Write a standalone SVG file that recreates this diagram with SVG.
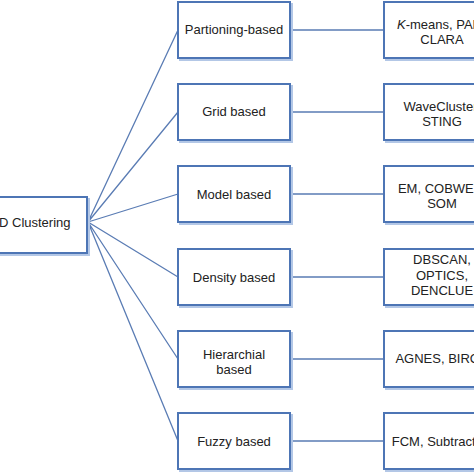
<svg xmlns="http://www.w3.org/2000/svg" width="474" height="474" viewBox="0 0 474 474">
<defs>
<style>
.box{fill:#fff;stroke:#4d75b5;stroke-width:2}
.sh{fill:none;stroke:#b3c7e6;stroke-width:2}
.ln{stroke:#5a7cb4;stroke-width:1.3;fill:none}
text{font-family:"Liberation Sans",Arial,sans-serif;font-size:13px;fill:#222;text-anchor:middle}
</style>
</defs>
<rect width="474" height="474" fill="#fff"/>
<g id="connectors">
<path class="ln" d="M88 222 L178 30 M88 222 L178 112 M88 222 L178 194 M88 222 L178 277 M88 222 L178 359 M88 222 L178 441"/>
<path class="ln" d="M290 30 H384 M290 112 H384 M290 194 H384 M290 277 H384 M290 359 H384 M290 441 H384"/>
</g>
<g id="root">
<rect class="sh" x="-8" y="199" width="97" height="56"/>
<rect class="box" x="-10" y="197" width="97" height="56"/>
<text x="-1" y="227" style="text-anchor:start">D Clustering</text>
</g>
<g id="n1">
<rect class="sh" x="180" y="4" width="112" height="56"/>
<rect class="box" x="178" y="2" width="112" height="56"/>
<text x="234" y="34">Partioning-based</text>
</g>
<g id="n2">
<rect class="sh" x="180" y="86" width="112" height="56"/>
<rect class="box" x="178" y="84" width="112" height="56"/>
<text x="234" y="116">Grid based</text>
</g>
<g id="n3">
<rect class="sh" x="180" y="168" width="112" height="56"/>
<rect class="box" x="178" y="166" width="112" height="56"/>
<text x="234" y="198.5">Model based</text>
</g>
<g id="n4">
<rect class="sh" x="180" y="251" width="112" height="56"/>
<rect class="box" x="178" y="249" width="112" height="56"/>
<text x="234" y="281.5">Density based</text>
</g>
<g id="n5">
<rect class="sh" x="180" y="333" width="112" height="56"/>
<rect class="box" x="178" y="331" width="112" height="56"/>
<text x="234" y="358.5">Hierarchial</text>
<text x="234" y="373.5">based</text>
</g>
<g id="n6">
<rect class="sh" x="180" y="415" width="112" height="56"/>
<rect class="box" x="178" y="413" width="112" height="56"/>
<text x="234" y="445.5">Fuzzy based</text>
</g>
<g id="r1">
<rect class="sh" x="386" y="4" width="116" height="56"/>
<rect class="box" x="384" y="2" width="116" height="56"/>
<text x="442" y="28.5"><tspan font-style="italic">K</tspan>-means, PAM,</text>
<text x="442" y="43.5">CLARA</text>
</g>
<g id="r2">
<rect class="sh" x="386" y="86" width="116" height="56"/>
<rect class="box" x="384" y="84" width="116" height="56"/>
<text x="442" y="110.5">WaveCluster,</text>
<text x="442" y="126">STING</text>
</g>
<g id="r3">
<rect class="sh" x="386" y="168" width="116" height="56"/>
<rect class="box" x="384" y="166" width="116" height="56"/>
<text x="442" y="192.5">EM, COBWEB,</text>
<text x="442" y="208">SOM</text>
</g>
<g id="r4">
<rect class="sh" x="386" y="251" width="116" height="56"/>
<rect class="box" x="384" y="249" width="116" height="56"/>
<text x="442" y="264">DBSCAN,</text>
<text x="442" y="279.5">OPTICS,</text>
<text x="442" y="295">DENCLUE</text>
</g>
<g id="r5">
<rect class="sh" x="386" y="333" width="116" height="56"/>
<rect class="box" x="384" y="331" width="116" height="56"/>
<text x="442" y="363">AGNES, BIRCH</text>
</g>
<g id="r6">
<rect class="sh" x="386" y="415" width="116" height="56"/>
<rect class="box" x="384" y="413" width="116" height="56"/>
<text x="442" y="446">FCM, Subtractive</text>
</g>
</svg>
